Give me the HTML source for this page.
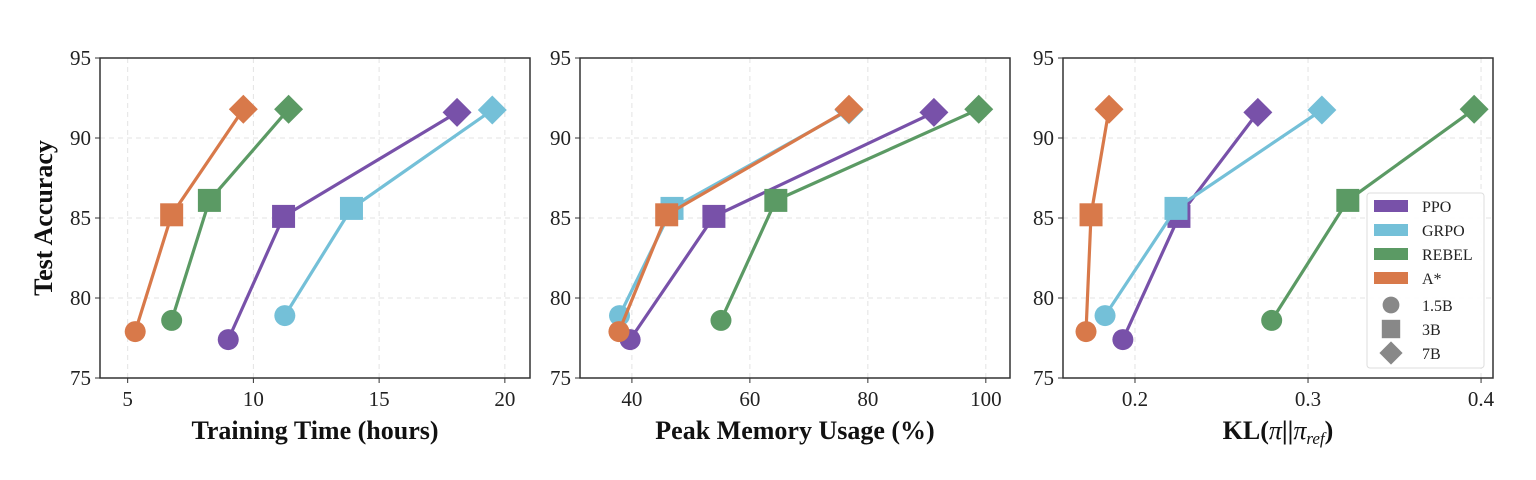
<!DOCTYPE html>
<html><head><meta charset="utf-8"><style>
body{margin:0;background:#fff}
svg{display:block;font-family:"Liberation Serif","DejaVu Serif",serif}
</style></head><body>
<svg id="c" width="1536" height="480" xmlns="http://www.w3.org/2000/svg"></svg>
<script>
const methods=["PPO","GRPO","REBEL","A*"];
const colors=["#7851a9","#74c0d8","#5b9a64","#d8794a"];
const sizes=["1.5B","3B","7B"];
const accPPO=[77.4,85.1,91.6];
const accGRPO=[78.9,85.6,91.75];
const accREBEL=[78.6,86.1,91.8];
const accAstar=[77.9,85.2,91.8];
const timePPO=[9.0,11.2,18.1];
const timeGRPO=[11.25,13.9,19.5];
const timeREBEL=[6.75,8.25,11.4];
const timeAstar=[5.3,6.75,9.6];
const memPPO=[39.7,53.9,91.2];
const memGRPO=[37.9,46.8,76.8];
const memREBEL=[55.1,64.4,98.8];
const memAstar=[37.8,45.9,76.8];
const klPPO=[0.193,0.2254,0.271];
const klGRPO=[0.1827,0.2237,0.308];
const klREBEL=[0.279,0.323,0.396];
const klAstar=[0.1717,0.1746,0.185];
const yTicks=[75,80,85,90,95];
const xTicks1=[5,10,15,20];
const xTicks2=[40,60,80,100];
const xTicks3=[0.2,0.3,0.4];
const accAll=[accPPO,accGRPO,accREBEL,accAstar];
const panels=[
 {name:"training-time",x0:100,x1:530,dom:[3.9,21.0],ticks:xTicks1,fmt:v=>v,xs:[timePPO,timeGRPO,timeREBEL,timeAstar],label:"Training Time (hours)"},
 {name:"peak-memory",x0:580,x1:1010,dom:[31.2,104.1],ticks:xTicks2,fmt:v=>v,xs:[memPPO,memGRPO,memREBEL,memAstar],label:"Peak Memory Usage (%)"},
 {name:"kl",x0:1063,x1:1493,dom:[0.1584,0.4069],ticks:xTicks3,fmt:v=>v.toFixed(1),xs:[klPPO,klGRPO,klREBEL,klAstar],label:"KL"}
];
const NS="http://www.w3.org/2000/svg";
const svg=document.getElementById('c');
function el(t,a,p){const e=document.createElementNS(NS,t);for(const k in a)e.setAttribute(k,a[k]);(p||svg).appendChild(e);return e;}
const Y0=58,Y1=378;
const sy=v=>Y1-(v-75)/20*(Y1-Y0);
function marker(g,s,x,y,c,k){
 k=k||1;let m;
 if(s===0)m=el('circle',{cx:x,cy:y,r:10.5*k,fill:c},g);
 else if(s===1)m=el('rect',{x:x-11.5*k,y:y-11.5*k,width:23*k,height:23*k,fill:c},g);
 else m=el('polygon',{points:`${x},${y-14.5*k} ${x+14.5*k},${y} ${x},${y+14.5*k} ${x-14.5*k},${y}`,fill:c},g);
 return m;
}
panels.forEach((p,pi)=>{
 const g=el('g',{});
 
 
 const sx=v=>p.x0+(v-p.dom[0])/(p.dom[1]-p.dom[0])*(p.x1-p.x0);
 yTicks.forEach(t=>{
  if(t>75&&t<95)el('line',{x1:p.x0,x2:p.x1,y1:sy(t),y2:sy(t),stroke:"#e3e3e3","stroke-dasharray":"5,4","stroke-width":1},g);
  el('line',{x1:p.x0-5,x2:p.x0,y1:sy(t),y2:sy(t),stroke:"#333"},g);
  const tx=el('text',{x:p.x0-9,y:sy(t)+7,"text-anchor":"end","font-size":21,fill:"#222"},g);tx.textContent=t;
  
 });
 p.ticks.forEach(t=>{
  el('line',{x1:sx(t),x2:sx(t),y1:Y0,y2:Y1,stroke:"#e3e3e3","stroke-dasharray":"5,4"},g);
  el('line',{x1:sx(t),x2:sx(t),y1:Y1,y2:Y1+5,stroke:"#333"},g);
  const tx=el('text',{x:sx(t),y:Y1+28,"text-anchor":"middle","font-size":21,fill:"#222"},g);tx.textContent=p.fmt(t);
  
 });
 methods.forEach((m,mi)=>{
  const xs=p.xs[mi],ys=accAll[mi];
  const pts=xs.map((v,i)=>sx(v)+","+sy(ys[i])).join(" ");
  const ln=el('polyline',{points:pts,fill:"none",stroke:colors[mi],"stroke-width":3.2},g);
  
  xs.forEach((v,i)=>{const mk=marker(g,i,sx(v),sy(ys[i]),colors[mi]);
   
   });
 });
 el('rect',{x:p.x0,y:Y0,width:p.x1-p.x0,height:Y1-Y0,fill:"none",stroke:"#333","stroke-width":1.5},g);
 const xl=el('text',{x:(p.x0+p.x1)/2,y:439,"text-anchor":"middle","font-size":26,"font-weight":"bold",fill:"#111"},g);
 
 if(p.name==="kl"){
  xl.innerHTML='KL(<tspan font-style="italic" font-weight="normal">π</tspan>||<tspan font-style="italic" font-weight="normal">π</tspan><tspan font-style="italic" font-weight="normal" font-size="17" dy="5">ref</tspan><tspan dy="-5">)</tspan>';
 } else xl.textContent=p.label;
});
const yl=el('text',{x:0,y:0,transform:"translate(52,218) rotate(-90)","text-anchor":"middle","font-size":26,"font-weight":"bold",fill:"#111"});
yl.textContent="Test Accuracy";


const lg=el('g',{});


el('rect',{x:1367,y:193,width:117,height:175,rx:3,fill:"#fff","fill-opacity":0.9,stroke:"#ddd"},lg);
methods.forEach((m,i)=>{
 const y=206+i*24;
 el('rect',{x:1374,y:y-6,width:34,height:12,fill:colors[i]},lg);
 const t=el('text',{x:1422,y:y+6,"font-size":16,fill:"#222"},lg);t.textContent=m;
 
});
sizes.forEach((s,i)=>{
 const y=305+i*24;
 marker(lg,i,1391,y,"#888",0.8);
 const t=el('text',{x:1422,y:y+6,"font-size":16,fill:"#222"},lg);t.textContent=s;
 
});
</script>
</body></html>
